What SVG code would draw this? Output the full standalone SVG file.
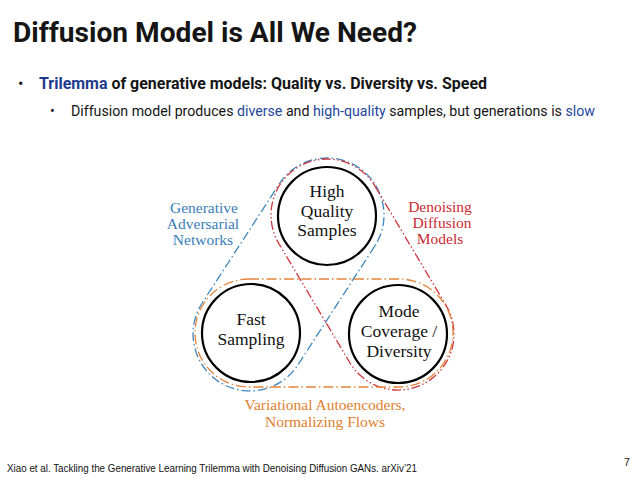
<svg xmlns="http://www.w3.org/2000/svg" width="638" height="478" viewBox="0 0 638 478">
<style>
.sans{font-family:Roboto,"Liberation Sans",sans-serif;fill:#151515}
.serif{font-family:"Liberation Serif","Times New Roman",serif;text-anchor:middle}
.node{fill:#fff;stroke:#000;stroke-width:2.2}
.ntxt{font-size:17.5px;fill:#111}
.lbl{font-size:15.5px}
.hl{fill:#25479c}
.stad{fill:none;stroke-width:1.3}
</style>
<rect width="638" height="478" fill="#fff"/>
<text class="sans" x="13" y="42" font-size="27.5" font-weight="bold" textLength="404" lengthAdjust="spacingAndGlyphs">Diffusion Model is All We Need?</text>
<text class="sans" x="18" y="89" font-size="16">•</text>
<text class="sans" x="39" y="88.5" font-size="16" font-weight="bold" textLength="448" lengthAdjust="spacingAndGlyphs"><tspan fill="#1d3b8c">Trilemma</tspan> of generative models: Quality vs. Diversity vs. Speed</text>
<text class="sans" x="50" y="116" font-size="14">•</text>
<text class="sans" x="71" y="115.5" font-size="14.2" textLength="524" lengthAdjust="spacingAndGlyphs">Diffusion model produces <tspan class="hl">diverse</tspan> and <tspan class="hl">high-quality</tspan> samples, but generations is <tspan class="hl">slow</tspan></text>

<g id="connectors">
  <rect id="gan-set" class="stad" stroke="#3f86bd" stroke-dasharray="9 3 1.5 3" x="-57" y="-57" width="255.7" height="114" rx="57" ry="57" transform="translate(327,215) rotate(122.9)"/>
  <rect id="ddm-set" class="stad" stroke="#cf3a40" stroke-dasharray="9 2.5 1.5 2.5 1.5 2.5" x="-56" y="-56" width="250.6" height="112" rx="56" ry="56" transform="translate(327,215) rotate(59.2)"/>
  <rect id="vae-set" class="stad" stroke="#e5843a" stroke-dasharray="10 3 1.5 3" x="195" y="279" width="258" height="108" rx="54" ry="54"/>
</g>

<g id="node-quality">
  <circle class="node" cx="327" cy="216" r="49"/>
  <text class="serif ntxt" x="327" y="197">High</text>
  <text class="serif ntxt" x="327" y="216.5">Quality</text>
  <text class="serif ntxt" x="327" y="236">Samples</text>
</g>
<g id="node-fast">
  <circle class="node" cx="251" cy="333" r="49"/>
  <text class="serif ntxt" x="251" y="325">Fast</text>
  <text class="serif ntxt" x="251" y="344.5">Sampling</text>
</g>
<g id="node-diversity">
  <circle class="node" cx="398" cy="334" r="49"/>
  <text class="serif ntxt" x="399" y="317">Mode</text>
  <text class="serif ntxt" x="399" y="337">Coverage /</text>
  <text class="serif ntxt" x="399" y="357">Diversity</text>
</g>

<g id="label-gan" fill="#3a7db6">
  <text class="serif lbl" x="204" y="213">Generative</text>
  <text class="serif lbl" x="203" y="229">Adversarial</text>
  <text class="serif lbl" x="203" y="245">Networks</text>
</g>
<g id="label-ddm" fill="#c92b33">
  <text class="serif lbl" x="440" y="212">Denoising</text>
  <text class="serif lbl" x="442" y="228">Diffusion</text>
  <text class="serif lbl" x="440" y="244">Models</text>
</g>
<g id="label-vae" fill="#e0802f">
  <text class="serif lbl" x="325" y="410">Variational Autoencoders,</text>
  <text class="serif lbl" x="325" y="427">Normalizing Flows</text>
</g>

<text x="7" y="472" font-family="'Liberation Sans',Arial,sans-serif" font-size="10.3" fill="#111" textLength="410" lengthAdjust="spacingAndGlyphs">Xiao et al. Tackling the Generative Learning Trilemma with Denoising Diffusion GANs. arXiv’21</text>
<text x="624" y="466" font-family="'Liberation Sans',Arial,sans-serif" font-size="10.5" fill="#111">7</text>
</svg>
